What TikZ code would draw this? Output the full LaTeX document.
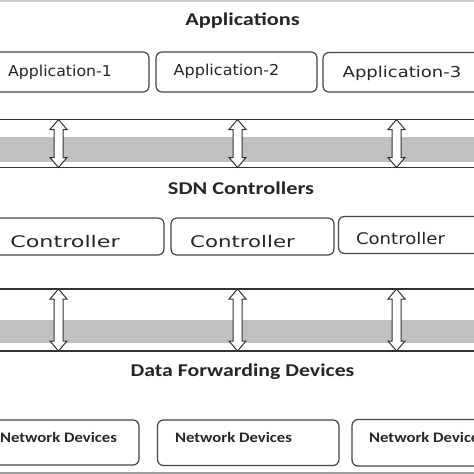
\documentclass[tikz,border=0pt]{standalone}
\usepackage{graphicx}
\usepackage{fontspec}
\setmainfont{Carlito}
\newfontfamily\dvfont{DejaVu Sans}
\definecolor{bandgray}{HTML}{C0C0C0}
\definecolor{edgegray}{HTML}{454545}
\definecolor{linegray}{HTML}{333333}
\definecolor{txtgray}{HTML}{262626}
\newcommand{\hsx}[2]{\scalebox{#1}[1]{#2}}
\newcommand{\dblarr}[3]{%
  \draw[arrowshape] (#1,#2) -- ++(8.5,10) -- ++(-4,0) -- (#1+4.5,#3-10) -- ++(4,0)
    -- (#1,#3) -- ++(-8.5,-10) -- ++(4,0) -- (#1-4.5,#2+10) -- ++(-4,0) -- cycle;}
\tikzset{
  box/.style={draw=edgegray, line width=1.2pt, rounded corners=6pt, fill=white},
  heading/.style={font=\bfseries\fontsize{18}{20}\selectfont, text=txtgray, anchor=base, inner sep=0pt},
  apptxt/.style={font=\dvfont\fontsize{15}{17}\selectfont, text=txtgray, anchor=base, inner sep=0pt},
  ctrltxt/.style={font=\dvfont\fontsize{16}{18}\selectfont, text=txtgray, anchor=base, inner sep=0pt},
  devtxt/.style={font=\bfseries\fontsize{14.5}{16}\selectfont, text=txtgray, anchor=base, inner sep=0pt},
  bandline/.style={draw=linegray, line width=1.2pt},
  arrowshape/.style={draw=linegray, line width=1pt, fill=white, line join=miter},
}
\begin{document}
\begin{tikzpicture}[x=1pt,y=-1pt]
\useasboundingbox (0,0) rectangle (474,474);
\clip (0,0) rectangle (474,474);
\fill[white] (0,0) rectangle (474,474);
\fill[black!20] (0,0) rectangle (474,2);
\fill[black!38] (0,471.5) rectangle (474,474);

% headings
\node[heading] (hApp) at (242.5,25) {\hsx{1.24}{Applications}};
\node[heading] (hSDN) at (241,194) {\hsx{1.24}{SDN Controllers}};
\node[heading] (hDFD) at (242.5,376) {\hsx{1.21}{Data Forwarding Devices}};

% application boxes
\draw[box] (-6,52) rectangle (149,92);
\draw[box] (156,52) rectangle (317,92);
\draw[box] (323,52.5) rectangle (480,92);
\node[apptxt] (a1) at (60,76) {\hsx{1.05}{Application-1}};
\node[apptxt] (a2) at (226.5,75) {\hsx{1.07}{Application-2}};
\node[apptxt] (a3) at (402,77) {\hsx{1.2}{Application-3}};

% band 1
\fill[bandgray] (0,137) rectangle (474,161.5);
\draw[bandline] (0,119.5) -- (474,119.5);
\draw[bandline] (0,167.5) -- (474,167.5);
\dblarr{58.5}{119.5}{167.5}
\dblarr{237.5}{119.5}{167.5}
\dblarr{396.5}{119.5}{167.5}

% controller boxes
\draw[box] (-6,218) rectangle (164,255);
\draw[box] (171,218) rectangle (334,255);
\draw[box] (338.5,216.5) rectangle (480,253.5);
\node[ctrltxt] (c1) at (65,247) {\hsx{1.39}{Controller}};
\node[ctrltxt] (c2) at (242.5,247.5) {\hsx{1.33}{Controller}};
\node[ctrltxt] (c3) at (400.5,244) {\hsx{1.13}{Controller}};

% band 2
\fill[bandgray] (0,320) rectangle (474,343);
\draw[bandline] (0,289) -- (474,289);
\draw[bandline] (0,351) -- (474,351);
\dblarr{58.5}{289}{351}
\dblarr{237.5}{289}{351}
\dblarr{396.5}{289}{351}

% network device boxes
\draw[box] (-6,420) rectangle (139,465);
\draw[box] (157.5,420) rectangle (339,465.5);
\draw[box] (352,419.5) rectangle (480,466);
\node[devtxt] (n1) at (58.5,442) {\hsx{1.15}{Network Devices}};
\node[devtxt] (n2) at (233.5,442) {\hsx{1.15}{Network Devices}};
\node[devtxt, anchor=base west] (n3) at (369,442) {\hsx{1.15}{Network Devices}};
\end{tikzpicture}
\end{document}
